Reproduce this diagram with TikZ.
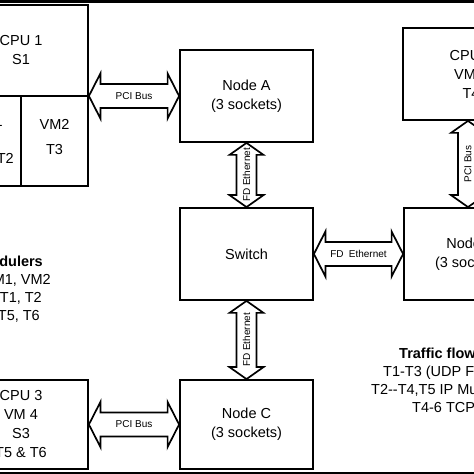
\documentclass[tikz,border=0pt]{standalone}
\usepackage{fontspec}
\setmainfont{Liberation Sans}
\usetikzlibrary{calc}
\def\HH{22.5pt}\def\HS{12pt}\def\HL{11.5pt}
\def\VH{17pt}\def\VS{10pt}\def\VL{12pt}
\newcommand{\harrow}[3]{%
 \draw[blk] let \p1=(#1.east), \p2=(#2.west) in
  (\x1,\y2) -- (\x1+\HL,\y2+\HH) -- (\x1+\HL,\y2+\HS) -- (\x2-\HL,\y2+\HS) -- (\x2-\HL,\y2+\HH) -- (\x2,\y2)
  -- (\x2-\HL,\y2-\HH) -- (\x2-\HL,\y2-\HS) -- (\x1+\HL,\y2-\HS) -- (\x1+\HL,\y2-\HH) -- cycle
  ({(\x1+\x2)/2},\y2) node[lbl] {#3};}
\newcommand{\varrow}[4][0pt]{%
 \draw[blk] let \p1=($(#2.south)+(#1,0)$), \p2=(#3.north) in
  (\x1,\y1) -- (\x1+\VH,\y1-\VL) -- (\x1+\VS,\y1-\VL) -- (\x1+\VS,\y2+\VL) -- (\x1+\VH,\y2+\VL) -- (\x1,\y2)
  -- (\x1-\VH,\y2+\VL) -- (\x1-\VS,\y2+\VL) -- (\x1-\VS,\y1-\VL) -- (\x1-\VH,\y1-\VL) -- cycle
  (\x1,{(\y1+\y2)/2}) node[lbl,rotate=90] {#4};}
\begin{document}
\begin{tikzpicture}[x=1pt,y=1pt,
  box/.style={draw, line width=1.8pt, inner sep=0pt, align=center, font=\fontsize{14.5}{19}\selectfont},
  blk/.style={draw, line width=1.7pt, line join=miter},
  lbl/.style={inner sep=0pt, font=\fontsize{10}{11}\selectfont},
  txt/.style={inner sep=0pt, font=\fontsize{14.5}{18}\selectfont}]
\useasboundingbox (0,0) rectangle (474,474);
\clip (0,0) rectangle (474,474);
% boxes
\node[box, minimum width=134, minimum height=91] (cpu1) at (21,423.5) {CPU 1\\S1};
\node[box, minimum width=67, minimum height=90] (vm1) at (-12.5,333) {};
\node[txt, anchor=base east] (vm1a) at (3,347) {VM1};
\node[txt, anchor=base east] (vm1b) at (14,310) {T1, T2};
\node[box, minimum width=67, minimum height=90] (vm2) at (54.5,333) {};
\node[txt, anchor=base] (vm2a) at (54.5,344) {VM2};
\node[txt, anchor=base] (vm2b) at (54.5,319) {T3};
\node[box, minimum width=133, minimum height=92] (nodeA) at (246.5,378) {Node A\\(3 sockets)};
\node[box, minimum width=136, minimum height=92] (cpu2) at (471,400) {CPU 2\\VM 3\\T4};
\node[box, minimum width=133, minimum height=92] (switch) at (246.5,220) {Switch};
\node[box, minimum width=133, minimum height=92] (nodeB) at (470.5,220) {Node B\\(3 sockets)};
\node[box, minimum width=133, minimum height=89] (nodeC) at (246.5,49.5) {Node C\\(3 sockets)};
\node[box, minimum width=134, minimum height=89] (cpu3) at (21,49.5) {CPU 3\\VM 4\\S3\\T5 \& T6};
% connectors
\harrow{cpu1}{nodeA}{PCI Bus}
\harrow{cpu3}{nodeC}{PCI Bus}
\harrow{switch}{nodeB}{FD\hspace{2.5pt} Ethernet}
\varrow{nodeA}{switch}{FD Ethernet}
\varrow{switch}{nodeC}{FD Ethernet}
\varrow[-3pt]{cpu2}{nodeB}{PCI Bus}
% side texts
\node[txt, anchor=base east, font=\fontsize{14.5}{18}\selectfont\bfseries] (sch) at (43,207) {Schedulers};
\node[txt, anchor=base east] (s1) at (51,189) {VM1, VM2};
\node[txt, anchor=base east] (s2) at (42,171) {T1, T2};
\node[txt, anchor=base east] (s3) at (40,153) {T5, T6};
\node[txt, anchor=base west, font=\fontsize{14.5}{18}\selectfont\bfseries] (tf) at (399,115) {Traffic flows};
\node[txt, anchor=base west] (t1) at (383,97) {T1-T3 (UDP Flows)};
\node[txt, anchor=base west] (t2) at (371,79) {T2-{}-T4,T5 IP Multicast};
\node[txt, anchor=base west] (t3) at (412,61) {T4-6 TCP Flows};
% frame bands
\fill (0,471.4) rectangle (474,474);
\fill (0,0) rectangle (474,2.3);
\end{tikzpicture}
\end{document}
